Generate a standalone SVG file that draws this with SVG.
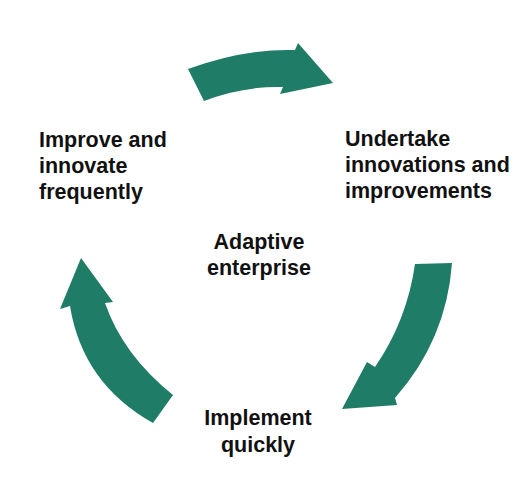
<svg xmlns="http://www.w3.org/2000/svg" width="532" height="480" viewBox="0 0 532 480">
  <style>
    .arrow { fill: #1f7c67; stroke: none; }
    .label { font-family: "Liberation Sans", Arial, sans-serif; font-weight: bold; font-size: 21.5px; fill: #111111; }
  </style>
  <rect width="532" height="480" fill="#ffffff"/>
  <g id="connectors">
    <path id="arrow-top" class="arrow" d="M188,69 Q244.5,48.5 295,50 L298,43 L333,83 L280,94 L283,87 Q242.5,86 204,101 Z"/>
    <path id="arrow-right" class="arrow" d="M415,264 L452,263 Q446.5,339.5 395,398 L397,405 L342,409 L367,362 L375,367 Q407,320.5 415,264 Z"/>
    <path id="arrow-left" class="arrow" d="M173,395 L153,423 Q82.5,383.5 70,306 L60,309 L81,258 L113,302 L105,303 Q123,355 173,395 Z"/>
  </g>
  <g id="node-improve">
    <text class="label" x="39" y="147">Improve and</text>
    <text class="label" x="39" y="173">innovate</text>
    <text class="label" x="39" y="199">frequently</text>
  </g>
  <g id="node-undertake">
    <text class="label" x="345" y="146">Undertake</text>
    <text class="label" x="345" y="172">innovations and</text>
    <text class="label" x="345" y="198">improvements</text>
  </g>
  <g id="node-center">
    <text class="label" x="259" y="249" text-anchor="middle">Adaptive</text>
    <text class="label" x="259" y="275" text-anchor="middle">enterprise</text>
  </g>
  <g id="node-implement">
    <text class="label" x="258" y="425" text-anchor="middle">Implement</text>
    <text class="label" x="258" y="452" text-anchor="middle">quickly</text>
  </g>
</svg>
